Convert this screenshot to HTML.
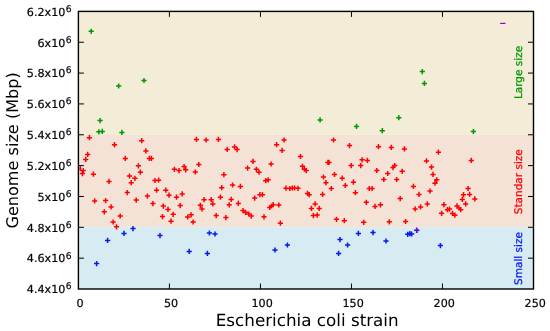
<!DOCTYPE html>
<html><head><meta charset="utf-8"><title>Genome size plot</title>
<style>html,body{margin:0;padding:0;background:#fff;width:550px;height:331px;overflow:hidden}svg{display:block}</style>
</head><body><svg text-rendering="geometricPrecision" width="550" height="331" viewBox="0 0 550 331"><rect x="0" y="0" width="550" height="331" fill="#fff"/><rect x="78.4" y="11.4" width="455.1" height="123.38" fill="#F3ECD6"/><rect x="78.4" y="134.78" width="455.1" height="92.53" fill="#F5E2D7"/><rect x="78.4" y="227.31" width="455.1" height="61.69" fill="#D6EBF2"/><path d="M78.4 258.16h5.5M533.5 258.16h-5.5M78.4 227.31h5.5M533.5 227.31h-5.5M78.4 196.47h5.5M533.5 196.47h-5.5M78.4 165.62h5.5M533.5 165.62h-5.5M78.4 134.78h5.5M533.5 134.78h-5.5M78.4 103.93h5.5M533.5 103.93h-5.5M78.4 73.09h5.5M533.5 73.09h-5.5M78.4 42.24h5.5M533.5 42.24h-5.5M169.42 289.0v-5.5M169.42 11.4v5.5M260.44 289.0v-5.5M260.44 11.4v5.5M351.46 289.0v-5.5M351.46 11.4v5.5M442.48 289.0v-5.5M442.48 11.4v5.5" stroke="#000" stroke-width="1" fill="none"/><path d="M86.80 137.70h5.20M89.40 135.10v5.20M111.90 144.70h5.20M114.50 142.10v5.20M139.10 140.70h5.20M141.70 138.10v5.20M143.30 150.90h5.20M145.90 148.30v5.20M85.10 154.40h5.20M87.70 151.80v5.20M83.10 159.40h5.20M85.70 156.80v5.20M122.70 158.40h5.20M125.30 155.80v5.20M146.80 158.40h5.20M149.40 155.80v5.20M148.80 158.40h5.20M151.40 155.80v5.20M135.80 165.80h5.20M138.40 163.20v5.20M137.80 172.20h5.20M140.40 169.60v5.20M80.60 170.60h5.20M83.20 168.00v5.20M79.80 173.60h5.20M82.40 171.00v5.20M90.80 174.20h5.20M93.40 171.60v5.20M126.90 176.00h5.20M129.50 173.40v5.20M132.30 178.30h5.20M134.90 175.70v5.20M128.60 182.70h5.20M131.20 180.10v5.20M106.40 181.40h5.20M109.00 178.80v5.20M152.40 180.50h5.20M155.00 177.90v5.20M156.00 180.20h5.20M158.60 177.60v5.20M193.80 139.40h5.20M196.40 136.80v5.20M203.50 140.00h5.20M206.10 137.40v5.20M215.80 139.40h5.20M218.40 136.80v5.20M224.60 149.40h5.20M227.20 146.80v5.20M232.00 146.90h5.20M234.60 144.30v5.20M234.50 149.60h5.20M237.10 147.00v5.20M250.40 161.40h5.20M253.00 158.80v5.20M245.00 168.10h5.20M247.60 165.50v5.20M253.80 169.30h5.20M256.40 166.70v5.20M171.80 169.30h5.20M174.40 166.70v5.20M176.40 170.60h5.20M179.00 168.00v5.20M181.50 166.50h5.20M184.10 163.90v5.20M183.10 169.80h5.20M185.70 167.20v5.20M196.20 164.50h5.20M198.80 161.90v5.20M192.70 172.00h5.20M195.30 169.40v5.20M221.30 174.70h5.20M223.90 172.10v5.20M281.50 140.00h5.20M284.10 137.40v5.20M274.00 144.70h5.20M276.60 142.10v5.20M279.50 150.40h5.20M282.10 147.80v5.20M330.90 140.00h5.20M333.50 137.40v5.20M297.90 156.50h5.20M300.50 153.90v5.20M268.50 164.00h5.20M271.10 161.40v5.20M325.30 162.40h5.20M327.90 159.80v5.20M326.40 162.40h5.20M329.00 159.80v5.20M256.40 172.20h5.20M259.00 169.60v5.20M299.90 166.30h5.20M302.50 163.70v5.20M301.80 169.20h5.20M304.40 166.60v5.20M303.60 170.60h5.20M306.20 168.00v5.20M263.10 180.70h5.20M265.70 178.10v5.20M265.60 179.80h5.20M268.20 177.20v5.20M320.90 177.00h5.20M323.50 174.40v5.20M323.30 182.70h5.20M325.90 180.10v5.20M331.90 174.50h5.20M334.50 171.90v5.20M339.60 178.20h5.20M342.20 175.60v5.20M346.90 145.60h5.20M349.50 143.00v5.20M375.90 146.70h5.20M378.50 144.10v5.20M388.70 147.40h5.20M391.30 144.80v5.20M401.80 148.90h5.20M404.40 146.30v5.20M359.50 159.80h5.20M362.10 157.20v5.20M364.80 160.40h5.20M367.40 157.80v5.20M348.60 165.60h5.20M351.20 163.00v5.20M358.10 165.60h5.20M360.70 163.00v5.20M392.10 165.50h5.20M394.70 162.90v5.20M390.40 167.60h5.20M393.00 165.00v5.20M374.20 170.50h5.20M376.80 167.90v5.20M399.60 171.30h5.20M402.20 168.70v5.20M385.10 173.50h5.20M387.70 170.90v5.20M381.20 179.50h5.20M383.80 176.90v5.20M394.10 179.50h5.20M396.70 176.90v5.20M423.90 160.90h5.20M426.50 158.30v5.20M428.90 167.10h5.20M431.50 164.50v5.20M430.40 174.40h5.20M433.00 171.80v5.20M350.80 182.20h5.20M353.40 179.60v5.20M342.70 185.50h5.20M345.30 182.90v5.20M410.80 186.40h5.20M413.40 183.80v5.20M435.80 152.20h5.20M438.40 149.60v5.20M468.70 160.40h5.20M471.30 157.80v5.20M434.10 179.80h5.20M436.70 177.20v5.20M432.40 183.20h5.20M435.00 180.60v5.20M124.70 192.60h5.20M127.30 190.00v5.20M154.00 190.20h5.20M156.60 187.60v5.20M163.20 190.20h5.20M165.80 187.60v5.20M166.40 195.20h5.20M169.00 192.60v5.20M144.80 196.10h5.20M147.40 193.50v5.20M92.10 200.90h5.20M94.70 198.30v5.20M103.00 200.60h5.20M105.60 198.00v5.20M133.60 200.10h5.20M136.20 197.50v5.20M108.50 206.90h5.20M111.10 204.30v5.20M150.30 203.60h5.20M152.90 201.00v5.20M160.70 206.10h5.20M163.30 203.50v5.20M165.40 209.40h5.20M168.00 206.80v5.20M101.70 211.80h5.20M104.30 209.20v5.20M117.60 216.00h5.20M120.20 213.40v5.20M159.90 216.60h5.20M162.50 214.00v5.20M110.50 222.00h5.20M113.10 219.40v5.20M113.90 226.80h5.20M116.50 224.20v5.20M173.90 197.20h5.20M176.50 194.60v5.20M179.60 193.90h5.20M182.20 191.30v5.20M177.60 205.60h5.20M180.20 203.00v5.20M170.60 214.30h5.20M173.20 211.70v5.20M168.40 221.20h5.20M171.00 218.60v5.20M185.10 217.00h5.20M187.70 214.40v5.20M188.50 214.80h5.20M191.10 212.20v5.20M190.50 222.00h5.20M193.10 219.40v5.20M201.50 199.70h5.20M204.10 197.10v5.20M197.70 205.30h5.20M200.30 202.70v5.20M199.40 208.90h5.20M202.00 206.30v5.20M208.60 199.70h5.20M211.20 197.10v5.20M210.20 203.90h5.20M212.80 201.30v5.20M213.60 215.60h5.20M216.20 213.00v5.20M219.10 187.70h5.20M221.70 185.10v5.20M217.80 197.20h5.20M220.40 194.60v5.20M223.30 217.60h5.20M225.90 215.00v5.20M230.00 185.00h5.20M232.60 182.40v5.20M237.80 186.40h5.20M240.40 183.80v5.20M228.60 199.40h5.20M231.20 196.80v5.20M226.60 204.80h5.20M229.20 202.20v5.20M235.70 203.40h5.20M238.30 200.80v5.20M240.40 210.60h5.20M243.00 208.00v5.20M242.90 212.30h5.20M245.50 209.70v5.20M246.20 214.00h5.20M248.80 211.40v5.20M248.70 216.10h5.20M251.30 213.50v5.20M252.10 198.10h5.20M254.70 195.50v5.20M257.30 194.70h5.20M259.90 192.10v5.20M259.80 194.70h5.20M262.40 192.10v5.20M283.40 188.20h5.20M286.00 185.60v5.20M287.20 188.50h5.20M289.80 185.90v5.20M289.70 188.00h5.20M292.30 185.40v5.20M291.90 188.00h5.20M294.50 185.40v5.20M295.40 188.30h5.20M298.00 185.70v5.20M304.90 193.40h5.20M307.50 190.80v5.20M306.60 194.70h5.20M309.20 192.10v5.20M320.00 194.40h5.20M322.60 191.80v5.20M328.70 188.50h5.20M331.30 185.90v5.20M267.10 207.50h5.20M269.70 204.90v5.20M268.90 206.00h5.20M271.50 203.40v5.20M270.60 204.70h5.20M273.20 202.10v5.20M276.20 205.00h5.20M278.80 202.40v5.20M312.50 203.90h5.20M315.10 201.30v5.20M308.80 208.40h5.20M311.40 205.80v5.20M316.60 208.40h5.20M319.20 205.80v5.20M310.80 215.60h5.20M313.40 213.00v5.20M314.60 215.10h5.20M317.20 212.50v5.20M261.40 216.80h5.20M264.00 214.20v5.20M277.80 223.20h5.20M280.40 220.60v5.20M333.90 219.30h5.20M336.50 216.70v5.20M341.70 220.70h5.20M344.30 218.10v5.20M352.80 192.70h5.20M355.40 190.10v5.20M366.70 188.50h5.20M369.30 185.90v5.20M369.50 188.50h5.20M372.10 185.90v5.20M363.70 202.30h5.20M366.30 199.70v5.20M372.40 206.40h5.20M375.00 203.80v5.20M377.90 204.80h5.20M380.50 202.20v5.20M397.60 198.60h5.20M400.20 196.00v5.20M416.40 194.40h5.20M419.00 191.80v5.20M427.40 191.00h5.20M430.00 188.40v5.20M412.50 208.90h5.20M415.10 206.30v5.20M418.00 206.90h5.20M420.60 204.30v5.20M424.70 203.90h5.20M427.30 201.30v5.20M361.10 222.30h5.20M363.70 219.70v5.20M386.70 221.80h5.20M389.30 219.20v5.20M403.00 221.50h5.20M405.60 218.90v5.20M465.50 188.50h5.20M468.10 185.90v5.20M460.90 194.70h5.20M463.50 192.10v5.20M467.00 194.40h5.20M469.60 191.80v5.20M472.20 198.90h5.20M474.80 196.30v5.20M459.70 199.40h5.20M462.30 196.80v5.20M463.10 203.90h5.20M465.70 201.30v5.20M441.30 204.70h5.20M443.90 202.10v5.20M454.40 205.90h5.20M457.00 203.30v5.20M456.30 207.90h5.20M458.90 205.30v5.20M458.10 209.70h5.20M460.70 207.10v5.20M439.00 213.30h5.20M441.60 210.70v5.20M444.80 209.70h5.20M447.40 207.10v5.20M446.90 209.10h5.20M449.50 206.50v5.20M449.90 213.40h5.20M452.50 210.80v5.20M452.30 215.20h5.20M454.90 212.60v5.20" stroke="#FF0000" stroke-width="1.5" fill="none"/><path d="M88.60 31.30h5.20M91.20 28.70v5.20M116.05 86.00h5.20M118.65 83.40v5.20M141.40 80.50h5.20M144.00 77.90v5.20M97.50 120.60h5.20M100.10 118.00v5.20M96.20 131.80h5.20M98.80 129.20v5.20M99.70 131.40h5.20M102.30 128.80v5.20M119.30 132.40h5.20M121.90 129.80v5.20M317.50 119.90h5.20M320.10 117.30v5.20M353.90 126.40h5.20M356.50 123.80v5.20M379.70 130.70h5.20M382.30 128.10v5.20M396.20 117.70h5.20M398.80 115.10v5.20M419.70 71.60h5.20M422.30 69.00v5.20M421.80 83.40h5.20M424.40 80.80v5.20M470.80 131.50h5.20M473.40 128.90v5.20" stroke="#009800" stroke-width="1.5" fill="none"/><path d="M94.00 263.60h5.20M96.60 261.00v5.20M105.00 240.40h5.20M107.60 237.80v5.20M121.40 233.40h5.20M124.00 230.80v5.20M130.40 228.60h5.20M133.00 226.00v5.20M157.40 235.60h5.20M160.00 233.00v5.20M186.60 251.40h5.20M189.20 248.80v5.20M204.80 253.40h5.20M207.40 250.80v5.20M206.80 233.00h5.20M209.40 230.40v5.20M212.40 234.00h5.20M215.00 231.40v5.20M272.40 250.00h5.20M275.00 247.40v5.20M284.80 245.00h5.20M287.40 242.40v5.20M336.00 253.40h5.20M338.60 250.80v5.20M337.40 239.60h5.20M340.00 237.00v5.20M345.00 245.00h5.20M347.60 242.40v5.20M355.80 233.40h5.20M358.40 230.80v5.20M370.40 232.60h5.20M373.00 230.00v5.20M383.40 241.00h5.20M386.00 238.40v5.20M405.10 234.30h5.20M407.70 231.70v5.20M407.20 233.60h5.20M409.80 231.00v5.20M409.00 234.00h5.20M411.60 231.40v5.20M414.20 230.30h5.20M416.80 227.70v5.20M437.80 245.60h5.20M440.40 243.00v5.20" stroke="#0818F0" stroke-width="1.5" fill="none"/><path d="" stroke="#9400D3" stroke-width="1.5" fill="none"/><path d="M416.6 227.7v5.2" stroke="#9400D3" stroke-width="1.5" fill="none"/><path d="M78.9 168.9h4.1" stroke="#A898E4" stroke-width="1.5" fill="none"/><path d="M80.35 166.1v4.8" stroke="#FF0000" stroke-width="1.5" fill="none"/><path d="M500.2 23.4h5.3" stroke="#9400D3" stroke-width="1.2" fill="none"/><rect x="78.4" y="11.4" width="455.1" height="277.6" fill="none" stroke="#000" stroke-width="1.4"/><g font-family="'DejaVu Sans', 'Liberation Sans', sans-serif" font-size="11.15" fill="#000" stroke="#000" stroke-width="0.2"><text x="65.35" y="293.30" text-anchor="end">4.4x10</text><text x="65.8" y="289.40" font-size="9.2">6</text><text x="65.35" y="262.46" text-anchor="end">4.6x10</text><text x="65.8" y="258.56" font-size="9.2">6</text><text x="65.35" y="231.61" text-anchor="end">4.8x10</text><text x="65.8" y="227.71" font-size="9.2">6</text><text x="65.35" y="200.77" text-anchor="end">5x10</text><text x="65.8" y="196.87" font-size="9.2">6</text><text x="65.35" y="169.92" text-anchor="end">5.2x10</text><text x="65.8" y="166.02" font-size="9.2">6</text><text x="65.35" y="139.08" text-anchor="end">5.4x10</text><text x="65.8" y="135.18" font-size="9.2">6</text><text x="65.35" y="108.23" text-anchor="end">5.6x10</text><text x="65.8" y="104.33" font-size="9.2">6</text><text x="65.35" y="77.39" text-anchor="end">5.8x10</text><text x="65.8" y="73.49" font-size="9.2">6</text><text x="65.35" y="46.54" text-anchor="end">6x10</text><text x="65.8" y="42.64" font-size="9.2">6</text><text x="65.35" y="15.70" text-anchor="end">6.2x10</text><text x="65.8" y="11.80" font-size="9.2">6</text><text x="80.10" y="306.5" text-anchor="middle">0</text><text x="171.12" y="306.5" text-anchor="middle">50</text><text x="262.14" y="306.5" text-anchor="middle">100</text><text x="353.16" y="306.5" text-anchor="middle">150</text><text x="444.18" y="306.5" text-anchor="middle">200</text><text x="535.20" y="306.5" text-anchor="middle">250</text></g><text font-family="'DejaVu Sans', 'Liberation Sans', sans-serif" font-size="16.75" x="307.2" y="325.5" text-anchor="middle" fill="#000">Escherichia coli strain</text><text font-family="'DejaVu Sans', 'Liberation Sans', sans-serif" font-size="16.1" transform="translate(17.8,150.4) rotate(-90)" text-anchor="middle" fill="#000">Genome size (Mbp)</text><text font-family="'DejaVu Sans', 'Liberation Sans', sans-serif" font-size="10.5" transform="translate(521.7,99.1) rotate(-90)" fill="#009800" stroke="#009800" stroke-width="0.25">Large size</text><text font-family="'DejaVu Sans', 'Liberation Sans', sans-serif" font-size="10.5" transform="translate(521.7,214.2) rotate(-90)" fill="#FF0000" stroke="#FF0000" stroke-width="0.25">Standar size</text><text font-family="'DejaVu Sans', 'Liberation Sans', sans-serif" font-size="10.5" transform="translate(521.7,284.9) rotate(-90)" fill="#0818F0" stroke="#0818F0" stroke-width="0.25">Small size</text></svg></body></html>
